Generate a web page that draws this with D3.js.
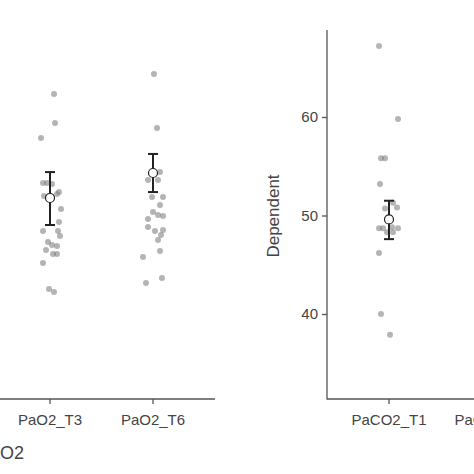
<!DOCTYPE html>
<html>
<head>
<meta charset="UTF-8">
<script src="https://d3js.org/d3.v7.min.js"></script>
<style>
body { margin: 0; background: #fff; }
text { font-family: "Liberation Sans", Arial, sans-serif; }
</style>
</head>
<body>
<svg id="canvas"></svg>
<script>
width = 474;
height = 474;

// left panel (PaO2), y axis cropped away
leftCats = ["PaO2_T3", "PaO2_T6"];
pao2_T3 = [215.4, 199.7, 191.6, 167.3, 167.3, 166.8, 160.3, 162.4, 161.4, 153.2, 146.2, 141.4, 141.4,
           138.6, 135.4, 133.8, 133.2, 131.1, 128.9, 128.9, 124.1, 110.0, 108.4];
pao2_T3_jit = [4, 5, -9, -7, -3, 2, -6, 9, 7, 11, 9, -7, 8, 10, -2, 2, 7, -4, 3, 7, -7, -1, 4];
pao2_T6 = [226.2, 197.0, 173.2, 168.9, 168.9, 159.7, 159.7, 155.4, 151.6, 150.0, 149.5, 147.8, 143.5,
           141.4, 141.9, 139.2, 136.5, 130.5, 127.3, 115.9, 113.2];
pao2_T6_jit = [1, 4, 7, -5, 5, -1, 10, 7, 0, 5, 10, -5, -5, 2, 10, 8, 5, 7, -10, 9, -7];
pao2_mean = [159.2, 172.7];
pao2_lo = [144.6, 162.4];
pao2_hi = [173.2, 183.0];

// right panel (PaCO2)
rightCats = ["PaCO2_T1", "PaCO2_T3"];
paco2_T1 = [67.2, 59.8, 55.8, 55.8, 53.2, 50.7, 50.8, 51.3, 48.7, 48.7, 48.3, 48.3, 48.7, 48.8, 46.2, 40.0, 37.9];
paco2_T1_jit = [-10, 9, -8, -4, -9, -4, 8, 4, -10, -6, -2, 4, 9, 3, -10, -8, 1];
paco2_mean = [49.6];
paco2_lo = [47.6];
paco2_hi = [51.5];
rightTicks = [40, 50, 60];

canvas = d3.select("#canvas").attr("width", width).attr("height", height);

axisCol = "#555";
textCol = "#444";

function drawPanel(x, y, cats, groups, jits, means, los, his, axisX0, axisX1) {
    g = canvas.append("g");
    g.append("line").attr("x1", axisX0).attr("x2", axisX1)
        .attr("y1", 399).attr("y2", 399).attr("stroke", axisCol).attr("stroke-width", 1.3);
    cats.forEach((c) => {
        g.append("line").attr("x1", x(c)).attr("x2", x(c)).attr("y1", 399).attr("y2", 404)
            .attr("stroke", axisCol).attr("stroke-width", 1.3);
        g.append("text").attr("x", x(c)).attr("y", 425).attr("text-anchor", "middle")
            .attr("font-size", 15).attr("fill", textCol).text(c);
    });
    groups.forEach((vals, i) => {
        c = cats[i];
        g.selectAll(null).data(vals).enter().append("circle")
            .attr("cx", (d, j) => x(c) + jits[i][j])
            .attr("cy", (d) => y(d))
            .attr("r", 3)
            .attr("fill", "#777").attr("fill-opacity", 0.55);
        cx = x(c);
        g.append("line").attr("x1", cx).attr("x2", cx).attr("y1", y(los[i])).attr("y2", y(his[i]))
            .attr("stroke", "#222").attr("stroke-width", 2);
        [los[i], his[i]].forEach((v) => {
            g.append("line").attr("x1", cx - 5).attr("x2", cx + 5).attr("y1", y(v)).attr("y2", y(v))
                .attr("stroke", "#222").attr("stroke-width", 2);
        });
        g.append("circle").attr("cx", cx).attr("cy", y(means[i])).attr("r", 4.5)
            .attr("fill", "#fff").attr("stroke", "#222").attr("stroke-width", 1.2);
    });
}

xl = d3.scalePoint().domain(leftCats).range([50, 153]);
yl = d3.scaleLinear().domain([50, 250]).range([400, 30]);
drawPanel(xl, yl, leftCats, [pao2_T3, pao2_T6], [pao2_T3_jit, pao2_T6_jit],
    pao2_mean, pao2_lo, pao2_hi, -10, 215);

canvas.append("text").attr("x", 26).attr("y", 459).attr("text-anchor", "end")
    .attr("font-size", 18).attr("fill", textCol).text("PaO2")
    .attr("transform", "translate(-2,0)");

xr = d3.scalePoint().domain(rightCats).range([389, 492]);
yr = d3.scaleLinear().domain([40, 60]).range([314, 117]);
drawPanel(xr, yr, rightCats, [paco2_T1], [paco2_T1_jit],
    paco2_mean, paco2_lo, paco2_hi, 327, 480);

canvas.append("line").attr("x1", 327).attr("x2", 327).attr("y1", 30).attr("y2", 399.6)
    .attr("stroke", axisCol).attr("stroke-width", 1.3);
canvas.append("g").attr("transform", "translate(327,0)")
    .call(d3.axisLeft(yr).tickValues(rightTicks).tickSize(5).tickPadding(4))
    .call((a) => a.select(".domain").remove())
    .call((a) => a.selectAll("line").attr("stroke", axisCol).attr("stroke-width", 1.3))
    .call((a) => a.selectAll("text").attr("font-size", 15).attr("fill", textCol)
        .attr("font-family", "Liberation Sans, Arial, sans-serif"));

canvas.append("text").attr("transform", "translate(279,216) rotate(-90)")
    .attr("text-anchor", "middle").attr("font-size", 17).attr("fill", textCol).text("Dependent");
</script>
</body>
</html>
